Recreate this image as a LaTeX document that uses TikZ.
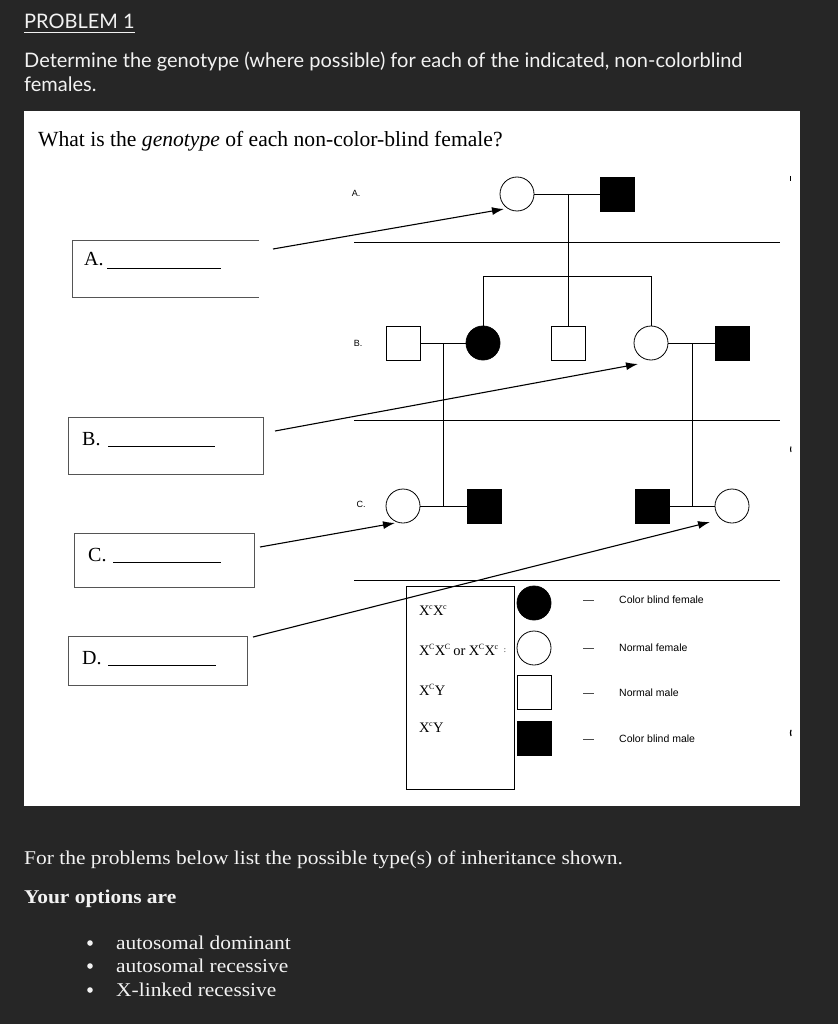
\documentclass[tikz,border=0pt]{standalone}
\usepackage{fontspec}
\setmainfont{Liberation Serif}
\newfontfamily\lato{Lato}
\newfontfamily\arial{Liberation Sans}
\newfontfamily\wideserif[FakeStretch=1.1]{Liberation Serif}
\usetikzlibrary{arrows.meta}
\definecolor{bgdark}{HTML}{262626}
\definecolor{hdtext}{HTML}{F2F2F2}
\definecolor{boxgray}{HTML}{555555}
\newcommand{\sx}[1]{\kern-0.5pt\raisebox{5.5pt}{\fontsize{8}{8}\selectfont #1}\kern0.3pt}
\begin{document}
\begin{tikzpicture}[x=1pt,y=-1pt,
  female/.style={circle,draw,line width=0.8,minimum size=34,inner sep=0},
  male/.style={rectangle,draw,line width=0.8,minimum size=34,inner sep=0},
  aff/.style={fill=black},
  unaff/.style={fill=white},
  pline/.style={line width=0.8},
  sep/.style={line width=0.9},
  arr/.style={line width=1.1,-{Latex[length=12,width=8]}},
  ansbox/.style={draw=boxgray,line width=1},
  ansline/.style={line width=0.8},
  heading/.style={text=hdtext,inner sep=0,anchor=base west},
  keytxt/.style={inner sep=0,anchor=base west,font=\fontsize{14.5}{17}\selectfont},
  keylbl/.style={inner sep=0,anchor=west,font=\arial\fontsize{10.5}{12}\selectfont},
  genlbl/.style={inner sep=0,font=\arial\fontsize{9}{10}\selectfont},
  boxlbl/.style={inner sep=0,anchor=base west,font=\fontsize{20}{22}\selectfont},
  bottomtxt/.style={heading,font=\wideserif\fontsize{19.5}{22}\selectfont}
]
\fill[bgdark] (0,0) rectangle (838,1024);
\useasboundingbox (0,0) rectangle (838,1024);

% header
\node[heading,font=\lato\fontsize{20}{23}\selectfont] (t1) at (24,29) {PROBLEM 1};
\draw[hdtext,line width=1.3] ([yshift=-3.5pt]t1.base west) -- ([yshift=-3.5pt]t1.base east);
\node[heading,font=\lato\fontsize{20}{23}\selectfont] (t2) at (24,68) {Determine the genotype (where possible) for each of the indicated, non-colorblind};
\node[heading,font=\lato\fontsize{20}{23}\selectfont] (t3) at (24,92) {females.};

% white panel
\fill[white] (24,111) rectangle (800,806);
\node[inner sep=0,anchor=base west,font=\fontsize{21.6}{24}\selectfont] (q) at (38,147) {What is the \textit{genotype} of each non-color-blind female?};

% answer boxes
\draw[ansbox] (259,240) -- (72,240) -- (72,297) -- (259,297);
\node[boxlbl] (la) at (84,265) {A.};
\draw[ansline] (107,268) -- (221,268);
\node[ansbox,minimum width=195,minimum height=57,inner sep=0] (bb) at (165.5,445.5) {};
\node[boxlbl] (lb) at (82,445) {B.};
\draw[ansline] (108,446) -- (215,446);
\node[ansbox,minimum width=180,minimum height=54,inner sep=0] (bc) at (164,560) {};
\node[boxlbl] (lc) at (88,561) {C.};
\draw[ansline] (113,562) -- (221,562);
\node[ansbox,minimum width=179,minimum height=49,inner sep=0] (bd) at (157.5,660.5) {};
\node[boxlbl] (ld) at (82,664) {D.};
\draw[ansline] (108,665) -- (216,665);

% separators
\draw[sep] (354,242) -- (780,242);
\draw[sep] (354,420) -- (780,420);
\draw[sep] (354,580) -- (780,580);

% generation labels
\node[genlbl] (ga) at (356,193) {A.};
\node[genlbl] (gb) at (358,343) {B.};
\node[genlbl] (gc) at (361,504) {C.};

% pedigree
\node[female,unaff] (fA) at (517,194) {};
\node[male,aff] (mA) at (617,194) {};
\node[male,unaff] (mB1) at (403,343) {};
\node[female,aff] (fB1) at (483,343) {};
\node[male,unaff] (mB2) at (568,343) {};
\node[female,unaff] (fB2) at (651,343) {};
\node[male,aff] (mB3) at (732,343) {};
\node[female,unaff] (fC1) at (403,506) {};
\node[male,aff] (mC1) at (484,506) {};
\node[male,aff] (mC2) at (652,506) {};
\node[female,unaff] (fC2) at (732,506) {};

\draw[pline] (fA.east) -- (mA.west);
\coordinate (dA) at (568,194);
\draw[pline] (dA) -- (mB2.north);
\coordinate (s1) at (483,276);
\coordinate (s2) at (651,276);
\draw[pline] (s1) -- (s2);
\draw[pline] (s1) -- (fB1.north);
\draw[pline] (s2) -- (fB2.north);
\draw[pline] (mB1.east) -- (fB1.west);
\draw[pline] (fB2.east) -- (mB3.west);
\draw[pline] (fC1.east) -- (mC1.west);
\draw[pline] (mC2.east) -- (fC2.west);
\coordinate (dB1) at (443,343);
\coordinate (dC1) at (443,506);
\draw[pline] (dB1) -- (dC1);
\coordinate (dB2) at (692,343);
\coordinate (dC2) at (692,506);
\draw[pline] (dB2) -- (dC2);

% arrows
\coordinate (aA0) at (273,249);
\coordinate (aA1) at (504,209);
\draw[arr] (aA0) -- (aA1);
\coordinate (aB0) at (275,431);
\coordinate (aB1) at (638,364);
\draw[arr] (aB0) -- (aB1);
\coordinate (aC0) at (260,547);
\coordinate (aC1) at (395,523);
\draw[arr] (aC0) -- (aC1);
\coordinate (aD0) at (253,637);
\coordinate (aD1) at (710,522);
\draw[arr] (aD0) -- (aD1);

% key
\node[draw,line width=1,minimum width=108,minimum height=203,inner sep=0] (key) at (460,687.5) {};
\node[keytxt] (k1) at (419,615) {X\sx{c}X\sx{c}};
\node[keytxt] (k2) at (419,655) {X\sx{C}X\sx{C}\hspace{3pt}or\hspace{3.5pt}X\sx{C}X\sx{c}};
\node[inner sep=0,font=\fontsize{8}{8}\selectfont] (k2b) at (505,651) {:};
\node[keytxt] (k3) at (419,695) {X\sx{C}Y};
\node[keytxt] (k4) at (419,732) {X\sx{c}Y};

\node[female,aff] (s1k) at (534,603) {};
\node[female,unaff] (s2k) at (534,648) {};
\node[male,unaff] (s3k) at (534,692) {};
\node[male,aff] (s4k) at (534,738) {};

\foreach \yy in {600,648,693,739} \draw[line width=0.8,black!70] (583,\yy) -- (594,\yy);
\node[keylbl] (kl1) at (619,600) {Color blind female};
\node[keylbl] (kl2) at (619,648) {Normal female};
\node[keylbl] (kl3) at (619,693) {Normal male};
\node[keylbl] (kl4) at (619,739) {Color blind male};

% stray marks
\draw[line width=1] (790,176) -- (790,181);
\draw[line width=1] (791,452) arc (160:200:8);
\draw[line width=1.2] (791,736) arc (160:200:9);

% bottom text
\node[bottomtxt] (b1) at (24,864) {For the problems below list the possible type(s) of inheritance shown.};
\node[bottomtxt,font=\wideserif\bfseries\fontsize{19.5}{22}\selectfont] (b2) at (24,903) {Your options are};
\foreach \yy/\txt [count=\i] in {949/autosomal dominant,972/autosomal recessive,996/X-linked recessive}{
  \fill[hdtext] (90,\yy-6) circle (2.8);
  \node[bottomtxt] (it\i) at (116,\yy) {\txt};
}
\end{tikzpicture}
\end{document}
